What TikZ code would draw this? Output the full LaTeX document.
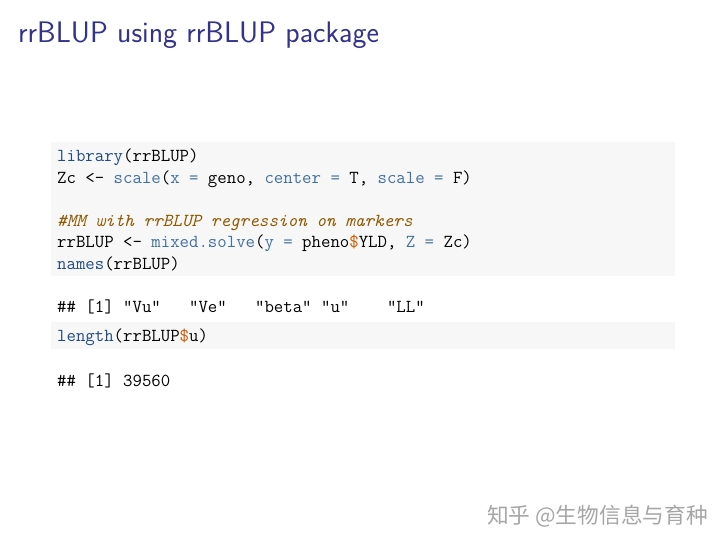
\documentclass[tikz,border=0pt]{standalone}
\usepackage{fontspec}
\newfontfamily\cjk{Noto Sans CJK SC}
\usepackage{xcolor}
\definecolor{ttl}{RGB}{51,51,140}
\definecolor{kw}{RGB}{32,74,135}
\definecolor{fn}{RGB}{64,112,160}
\definecolor{cm}{RGB}{143,89,2}
\definecolor{op}{RGB}{206,92,0}
\definecolor{codebg}{RGB}{247,247,247}
\begin{document}
\begin{tikzpicture}[x=1pt,y=-1pt,
  code/.style={anchor=base west,inner sep=0pt,font=\fontsize{18.3}{22}\ttfamily}]
\useasboundingbox (0,0) rectangle (726,545);
\fill[white] (0,0) rectangle (726,545);
\node[anchor=base west,inner sep=0pt,text=ttl,font=\fontsize{29.7}{34}\sffamily] (title) at (18,43) {rrBLUP using rrBLUP package};
\fill[codebg] (51,142) rectangle (675,276);
\fill[codebg] (51,322) rectangle (675,349);
\node[code] (l1) at (57,161.5) {\textcolor{kw}{library}(rrBLUP)};
\node[code] (l2) at (57,183.5) {Zc <- \textcolor{fn}{scale}(\textcolor{fn}{x =} geno, \textcolor{fn}{center =} T, \textcolor{fn}{scale =} F)};
\node[code] (l3) at (57,226.5) {\textcolor{cm}{\itshape\#MM with rrBLUP regression on markers}};
\node[code] (l4) at (57,247.5) {rrBLUP <- \textcolor{fn}{mixed.solve}(\textcolor{fn}{y =} pheno\textcolor{op}{\$}YLD, \textcolor{fn}{Z =} Zc)};
\node[code] (l5) at (57,269.5) {\textcolor{kw}{names}(rrBLUP)};
\node[code] (o1) at (57,312.5) {\#\# [1] "Vu"~~~"Ve"~~~"beta" "u"~~~~"LL"};
\node[code] (l6) at (57,341.5) {\textcolor{kw}{length}(rrBLUP\textcolor{op}{\$}u)};
\node[code] (o2) at (57,386.5) {\#\# [1] 39560};
\node[anchor=base east,inner sep=0pt,text=gray!70,font=\fontsize{21.7}{26}\cjk] (wm) at (708,523) {知乎 @生物信息与育种};
\end{tikzpicture}
\end{document}
